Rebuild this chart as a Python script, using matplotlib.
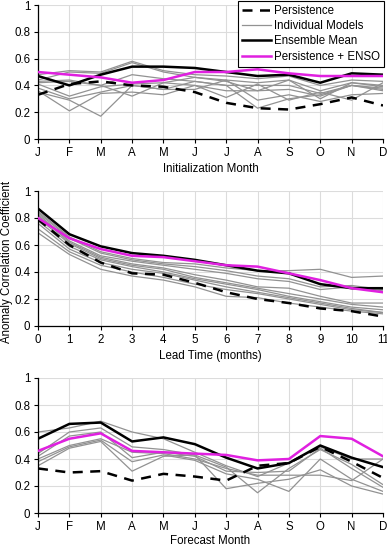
import matplotlib
matplotlib.use("Agg")
import matplotlib.pyplot as plt
import numpy as np

plt.rcParams['font.family'] = ['Liberation Sans', 'DejaVu Sans']

months = ['J', 'F', 'M', 'A', 'M', 'J', 'J', 'A', 'S', 'O', 'N', 'D']
leads = list(range(12))

# Panel 1: by initialization month
init_persistence = [0.33, 0.41, 0.43, 0.40, 0.39, 0.35, 0.27, 0.23, 0.22, 0.26, 0.31, 0.25]
init_ensemble = [0.47, 0.40, 0.48, 0.54, 0.54, 0.53, 0.50, 0.47, 0.48, 0.42, 0.49, 0.48]
init_pers_enso = [0.50, 0.48, 0.46, 0.42, 0.44, 0.50, 0.50, 0.52, 0.49, 0.47, 0.47, 0.47]
init_models = [
    [0.48, 0.51, 0.50, 0.58, 0.51, 0.48, 0.47, 0.45, 0.47, 0.40, 0.44, 0.43],
    [0.44, 0.50, 0.49, 0.57, 0.50, 0.46, 0.44, 0.42, 0.44, 0.36, 0.42, 0.40],
    [0.42, 0.43, 0.40, 0.48, 0.45, 0.43, 0.40, 0.40, 0.40, 0.34, 0.40, 0.38],
    [0.41, 0.32, 0.39, 0.41, 0.42, 0.40, 0.36, 0.36, 0.37, 0.32, 0.40, 0.36],
    [0.38, 0.30, 0.35, 0.40, 0.37, 0.37, 0.44, 0.29, 0.33, 0.28, 0.33, 0.34],
    [0.36, 0.21, 0.34, 0.35, 0.33, 0.40, 0.31, 0.41, 0.29, 0.35, 0.29, 0.42],
    [0.35, 0.29, 0.17, 0.40, 0.37, 0.43, 0.40, 0.23, 0.30, 0.33, 0.40, 0.37],
    [0.43, 0.44, 0.40, 0.32, 0.42, 0.46, 0.43, 0.36, 0.44, 0.30, 0.42, 0.39],
]

# Panel 2: by lead time
lead_persistence = [0.79, 0.60, 0.47, 0.39, 0.38, 0.32, 0.25, 0.20, 0.17, 0.13, 0.11, 0.07]
lead_ensemble = [0.87, 0.68, 0.59, 0.54, 0.52, 0.49, 0.45, 0.41, 0.39, 0.31, 0.28, 0.28]
lead_pers_enso = [0.80, 0.65, 0.57, 0.52, 0.51, 0.48, 0.45, 0.44, 0.39, 0.34, 0.28, 0.25]
lead_models = [
    [0.85, 0.66, 0.55, 0.50, 0.47, 0.46, 0.43, 0.41, 0.41, 0.42, 0.36, 0.37],
    [0.84, 0.65, 0.54, 0.49, 0.46, 0.44, 0.41, 0.37, 0.35, 0.29, 0.30, 0.27],
    [0.83, 0.63, 0.52, 0.48, 0.45, 0.42, 0.39, 0.35, 0.33, 0.27, 0.29, 0.26],
    [0.82, 0.62, 0.51, 0.46, 0.43, 0.38, 0.34, 0.29, 0.28, 0.22, 0.17, 0.17],
    [0.80, 0.61, 0.50, 0.45, 0.42, 0.36, 0.32, 0.28, 0.24, 0.20, 0.16, 0.14],
    [0.78, 0.59, 0.49, 0.44, 0.40, 0.35, 0.31, 0.27, 0.22, 0.18, 0.14, 0.12],
    [0.76, 0.57, 0.47, 0.42, 0.39, 0.34, 0.29, 0.25, 0.21, 0.17, 0.13, 0.10],
    [0.72, 0.55, 0.45, 0.40, 0.36, 0.31, 0.27, 0.24, 0.20, 0.16, 0.12, 0.10],
    [0.69, 0.53, 0.42, 0.37, 0.34, 0.29, 0.22, 0.21, 0.17, 0.14, 0.11, 0.09],
]

# Panel 3: by forecast month
fc_persistence = [0.33, 0.30, 0.31, 0.24, 0.29, 0.27, 0.24, 0.35, 0.37, 0.49, 0.38, 0.26]
fc_ensemble = [0.55, 0.66, 0.67, 0.53, 0.56, 0.51, 0.41, 0.33, 0.37, 0.50, 0.41, 0.34]
fc_pers_enso = [0.46, 0.55, 0.59, 0.46, 0.45, 0.44, 0.43, 0.39, 0.40, 0.57, 0.55, 0.42]
fc_models = [
    [0.60, 0.63, 0.68, 0.60, 0.55, 0.45, 0.35, 0.27, 0.37, 0.49, 0.40, 0.40],
    [0.44, 0.60, 0.63, 0.49, 0.47, 0.43, 0.34, 0.15, 0.33, 0.47, 0.36, 0.21],
    [0.42, 0.57, 0.60, 0.41, 0.45, 0.42, 0.31, 0.30, 0.31, 0.48, 0.33, 0.19],
    [0.38, 0.49, 0.54, 0.38, 0.43, 0.39, 0.29, 0.25, 0.16, 0.40, 0.25, 0.16],
    [0.35, 0.48, 0.53, 0.31, 0.42, 0.43, 0.18, 0.22, 0.25, 0.32, 0.20, 0.14],
    [0.40, 0.50, 0.55, 0.45, 0.44, 0.40, 0.33, 0.28, 0.28, 0.28, 0.24, 0.40],
]

W, H = 387, 544
fig = plt.figure(figsize=(W / 100, H / 100), dpi=100)

left = 38 / W
width = 345 / W
panels = [
    (5, 139, init_persistence, init_ensemble, init_pers_enso, init_models, months, 'Initialization Month'),
    (191, 326, lead_persistence, lead_ensemble, lead_pers_enso, lead_models, [str(v) for v in leads], 'Lead Time (months)'),
    (378, 513, fc_persistence, fc_ensemble, fc_pers_enso, fc_models, months, 'Forecast Month'),
]

GRAY = '#929292'
MAG = '#e020e0'
FS = 8.3
axes = []
for i, (top, bot, pers, ens, pe, models, xt, xl) in enumerate(panels):
    ax = fig.add_axes([left, 1 - bot / H, width, (bot - top) / H])
    x = np.arange(12)
    for j, m in enumerate(models):
        ax.plot(x, m, color=GRAY, lw=0.9, label='Individual Models' if j == 0 else None, zorder=2)
    ax.plot(x, pers, color='black', lw=1.8, ls=(0, (4, 3)), label='Persistence', zorder=3)
    ax.plot(x, ens, color='black', lw=1.8, label='Ensemble Mean', zorder=4)
    ax.plot(x, pe, color=MAG, lw=1.8, label='Persistence + ENSO', zorder=5)
    ax.set_xlim(0, 11)
    ax.set_ylim(0, 1)
    ax.set_xticks(x)
    ax.set_xticklabels(xt)
    ax.set_yticks([0, 0.2, 0.4, 0.6, 0.8, 1])
    ax.set_yticklabels(['0', '0.2', '0.4', '0.6', '0.8', '1'])
    ax.grid(True, color='#dcdcdc', lw=0.8)
    ax.set_axisbelow(True)
    for s in ['top', 'right']:
        ax.spines[s].set_visible(False)
    ax.spines['left'].set_linewidth(0.9)
    ax.spines['bottom'].set_linewidth(0.9)
    ax.tick_params(direction='out', length=3, width=0.8, labelsize=FS, pad=2.5)
    ax.set_xlabel(xl, fontsize=FS, labelpad=2 if i == 2 else 3)
    axes.append(ax)

h, l = axes[0].get_legend_handles_labels()
order = [l.index('Persistence'), l.index('Individual Models'), l.index('Ensemble Mean'), l.index('Persistence + ENSO')]
leg = axes[0].legend([h[k] for k in order], [l[k] for k in order], loc='upper right',
                     bbox_to_anchor=(1.003, 1.03), fontsize=FS, frameon=True, fancybox=False,
                     edgecolor='black', framealpha=1, handlelength=2.5, handletextpad=0.25,
                     labelspacing=0.28, borderpad=0.35, borderaxespad=0.0)
leg.get_frame().set_linewidth(0.8)

fig.text(7 / W, 1 - 262 / H, 'Anomaly Correlation Coefficient', rotation=90,
         va='center', ha='center', fontsize=FS)

fig.savefig('out.png', dpi=100)
